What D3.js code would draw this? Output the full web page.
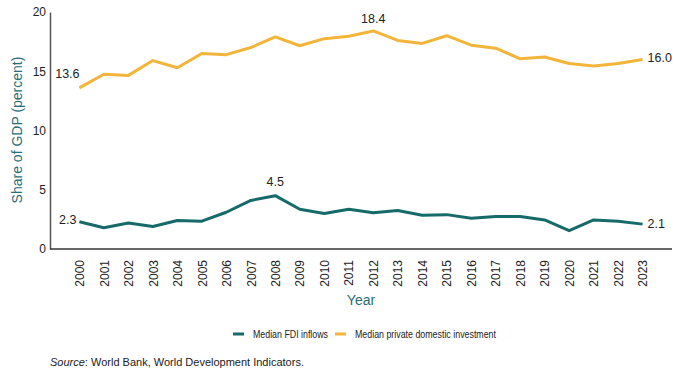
<!DOCTYPE html>
<html>
<head>
<meta charset="utf-8">
<script src="https://cdn.jsdelivr.net/npm/d3@7"></script>
<style>
  body { margin: 0; background: #fff; }
  svg { display: block; font-family: "Liberation Sans", Arial, sans-serif; }
</style>
</head>
<body>
<svg id="chart"></svg>
<script>
const width = 684;
const height = 385;

const years = ["2000","2001","2002","2003","2004","2005","2006","2007","2008","2009","2010","2011",
  "2012","2013","2014","2015","2016","2017","2018","2019","2020","2021","2022","2023"];
const fdi = [2.3, 1.8, 2.2, 1.9, 2.4, 2.35, 3.1, 4.1, 4.5, 3.35, 3.0, 3.35,
  3.05, 3.25, 2.85, 2.9, 2.6, 2.75, 2.75, 2.45, 1.55, 2.45, 2.35, 2.1];
const privateInv = [13.6, 14.75, 14.65, 15.9, 15.3, 16.5, 16.4, 17.0, 17.9, 17.15, 17.75, 17.95,
  18.4, 17.6, 17.35, 18.0, 17.2, 16.95, 16.05, 16.2, 15.65, 15.45, 15.65, 16.0];
const yTicks = [0, 5, 10, 15, 20];

const teal = "#166a69";
const gold = "#f2b53a";

const svg = d3.select("#chart")
  .attr("width", width)
  .attr("height", height);

const x = d3.scalePoint()
  .domain(years)
  .range([50, 672])
  .padding(1.2);

const y = d3.scaleLinear()
  .domain([0, 20])
  .range([249, 12]);

// y axis
const yAxis = svg.append("g")
  .attr("transform", "translate(50,0)")
  .call(d3.axisLeft(y).tickValues(yTicks).tickSize(0).tickPadding(4));
yAxis.select(".domain").attr("stroke", "#555").attr("stroke-width", 1.5);
yAxis.selectAll("text").attr("font-size", 12).attr("fill", "#222")
  .attr("font-family", "Liberation Sans, Arial, sans-serif");

// x axis
const xAxis = svg.append("g")
  .attr("transform", "translate(0,249)")
  .call(d3.axisBottom(x).tickSize(0));
xAxis.select(".domain").attr("d", "M50,0H672").attr("stroke", "#333").attr("stroke-width", 1.5);
xAxis.selectAll("text")
  .attr("font-size", 12)
  .attr("fill", "#222")
  .attr("font-family", "Liberation Sans, Arial, sans-serif")
  .attr("text-anchor", "end")
  .attr("transform", "rotate(-90)")
  .attr("x", -11)
  .attr("y", 0)
  .attr("dy", "0.35em");

// axis titles
svg.append("text")
  .attr("transform", "translate(22,130) rotate(-90)")
  .attr("text-anchor", "middle")
  .attr("font-size", 14)
  .attr("fill", "#2a6e75")
  .text("Share of GDP (percent)");

svg.append("text")
  .attr("x", 361)
  .attr("y", 305)
  .attr("text-anchor", "middle")
  .attr("font-size", 14)
  .attr("fill", "#2a6e75")
  .text("Year");

// lines
const line = d3.line()
  .x((d, i) => x(years[i]))
  .y(d => y(d));

const series = [
  { name: "Median FDI inflows", values: fdi, color: teal },
  { name: "Median private domestic investment", values: privateInv, color: gold }
];

svg.selectAll(".series")
  .data(series)
  .enter().append("path")
  .attr("class", "series")
  .attr("d", d => line(d.values))
  .attr("fill", "none")
  .attr("stroke", d => d.color)
  .attr("stroke-width", 3)
  .attr("stroke-linejoin", "round");

// value labels
const labels = [
  { vals: fdi, i: 0, anchor: "end", dx: -3, dy: 2 },
  { vals: fdi, i: 8, anchor: "middle", dx: 0, dy: -10 },
  { vals: fdi, i: 23, anchor: "start", dx: 5, dy: 4 },
  { vals: privateInv, i: 0, anchor: "middle", dx: -12, dy: -10 },
  { vals: privateInv, i: 12, anchor: "middle", dx: 0, dy: -8 },
  { vals: privateInv, i: 23, anchor: "start", dx: 5, dy: 3 }
];

svg.selectAll(".vlabel")
  .data(labels)
  .enter().append("text")
  .attr("class", "vlabel")
  .attr("x", d => x(years[d.i]) + d.dx)
  .attr("y", d => y(d.vals[d.i]) + d.dy)
  .attr("text-anchor", d => d.anchor)
  .attr("font-size", 12.5)
  .attr("fill", "#222")
  .text(d => d.vals[d.i].toFixed(1));

// legend (condensed text like the original)
const legend = svg.append("g")
  .attr("font-size", 10);
const legendX = [233, 335];
const legendW = [75, 141];
series.forEach((s, i) => {
  legend.append("line")
    .attr("x1", legendX[i]).attr("x2", legendX[i] + 11)
    .attr("y1", 334).attr("y2", 334)
    .attr("stroke", s.color).attr("stroke-width", 3);
  legend.append("text")
    .attr("x", legendX[i] + 20)
    .attr("y", 337.5)
    .attr("fill", "#222")
    .attr("textLength", legendW[i])
    .attr("lengthAdjust", "spacingAndGlyphs")
    .text(s.name);
});

// source note
const src = svg.append("text")
  .attr("x", 50)
  .attr("y", 366)
  .attr("font-size", 11)
  .attr("fill", "#222");
src.append("tspan").attr("font-style", "italic").text("Source");
src.append("tspan").text(": World Bank, World Development Indicators.");
</script>
</body>
</html>
